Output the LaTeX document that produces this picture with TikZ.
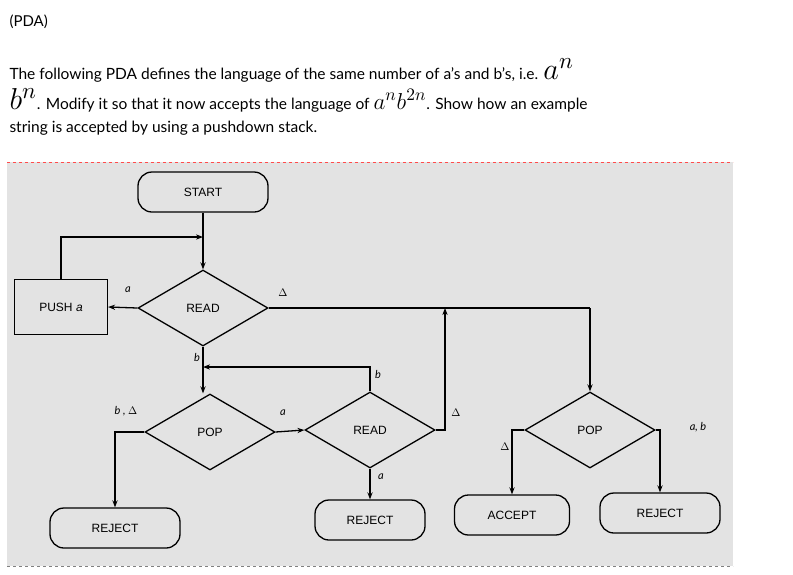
\documentclass[tikz,border=0pt]{standalone}
\usepackage{fontspec}
\usepackage{graphicx}
\setmainfont{Lato}
\newfontfamily\chartfont{Liberation Sans}
\usetikzlibrary{shapes.geometric,arrows.meta}
\newcommand{\mybigmath}[1]{\scalebox{2.1}{$#1$}}
\begin{document}
\begin{tikzpicture}[x=1pt,y=-1pt,
  box/.style={draw,line width=1.3pt,rounded corners=14pt,minimum width=130pt,minimum height=40pt,font=\chartfont\fontsize{12}{14}\selectfont},
  dia/.style={draw,line width=1.3pt,diamond,inner sep=0pt,minimum width=130pt,minimum height=76pt,font=\chartfont\fontsize{12}{14}\selectfont},
  lab/.style={font=\fontsize{11}{13}\selectfont\itshape},
  ln/.style={line width=1.3pt},
  ar/.style={line width=1.3pt,-{Stealth[length=7pt]}}]
\useasboundingbox (0,0) rectangle (793,574);
\fill[white] (0,0) rectangle (793,574);
\fill[gray!22] (7,162) rectangle (733,566);
\draw[red!70,dashed] (7,162) -- (733,162);
\draw[gray,dashed] (7,566) -- (733,566);
\node[anchor=west,font=\fontsize{15}{18}\selectfont] (t0) at (6,22) {(PDA)};
\node[anchor=base west,font=\fontsize{15.5}{18}\selectfont] (t1) at (6,79) {The following PDA defines the language of the same number of a's and b's, i.e. \mybigmath{a^n}};
\node[anchor=base west,font=\fontsize{15.5}{18}\selectfont] (t2) at (6,109) {\mybigmath{b^n}. Modify it so that it now accepts the language of \scalebox{1.6}{$a^n b^{2n}$}. Show how an example};
\node[anchor=base west,font=\fontsize{15.5}{18}\selectfont] (t3) at (6,132) {string is accepted by using a pushdown stack.};

\node[box] (start) at (203,192) {START};
\node[dia] (read1) at (203,308) {READ};
\node[draw,line width=1.3pt,minimum width=93pt,minimum height=55pt,font=\chartfont\fontsize{12}{14}\selectfont] (push) at (61,307) {PUSH \textit{a}};
\node[dia] (pop1) at (210,432) {POP};
\node[dia] (read2) at (370,430) {READ};
\node[dia] (pop2) at (590,430) {POP};
\node[box] (rej1) at (115,528) {REJECT};
\node[box,minimum width=110pt] (rej2) at (370,520) {REJECT};
\node[box,minimum width=115pt] (acc) at (512,515) {ACCEPT};
\node[box,minimum width=120pt] (rej3) at (660,513) {REJECT};

\coordinate (j1) at (203,237);
\coordinate (j2) at (203,367);
\coordinate (j3) at (445,308);
\draw[ar] (start) -- (read1);
\draw[ar] (push.north) |- (j1);
\draw[ar] (read1.west) -- (push.east);
\draw[ln] (read1.east) -- (590,308);
\draw[ar] (590,308) -- (pop2.north);
\draw[ar] (read1.south) -- (pop1.north -| read1.south);
\draw[ar] (read2.north) |- (j2);
\draw[ar] (pop1.east) -- (read2.west);
\draw[ar] (read2.east) -| (j3);
\draw[ar] (pop1.west) -| (rej1.north);
\draw[ar] (read2.south) -- (rej2.north);
\draw[ar] (pop2.west) -| (acc.north);
\draw[ar] (pop2.east) -| (rej3.north);

\node[lab] (la) at (128,290) {a};
\node[lab] (lb) at (197,357) {b};
\node[lab] (ld1) at (283,293) {$\Delta$};
\node[lab] (lb2) at (378,374) {b};
\node[lab] (la2) at (283,413) {a};
\node[lab] (lbd) at (126,411) {b , $\Delta$};
\node[lab] (ld2) at (456,413) {$\Delta$};
\node[lab] (la3) at (381,477) {a};
\node[lab] (ld3) at (505,447) {$\Delta$};
\node[lab] (lab2) at (698,427) {a, b};
\end{tikzpicture}
\end{document}
